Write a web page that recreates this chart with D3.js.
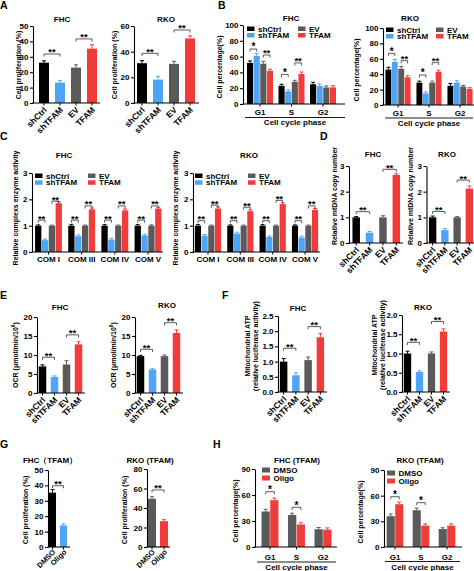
<!DOCTYPE html>
<html><head><meta charset="utf-8">
<script src="https://cdn.jsdelivr.net/npm/d3@7"></script>
<style>
body{margin:0;background:#fff}
svg{display:block}
text{font-family:"Liberation Sans",Arial,sans-serif;font-weight:bold;fill:#000}
</style>
</head><body>
<svg id="c" width="474" height="571"></svg>
<script>
// ---------------- DATA ----------------
const groups4 = ["shCtrl","shTFAM","EV","TFAM"];
const phases = ["G1","S","G2"];
const complexes = ["COM I","COM III","COM IV","COM V"];
const treatments = ["DMSO","Oligo"];

// A: cell proliferation (%)
const profFHC = [26.2, 13.2, 23, 35.3];
const profFHCErr = [1.2, 1.3, 1.8, 2.5];
const profRKO = [31, 18.2, 30.5, 50.3];
const profRKOErr = [2, 2.5, 2, 2];
const ticksA_FHC = [0,10,20,30,40,50];
const ticksA_RKO = [0,20,40,60];

// B: cell cycle (%) rows = shCtrl, shTFAM, EV, TFAM ; cols = G1, S, G2
const cycFHC = [[52,23,25],[61,16,23],[51,28,21],[42,38,21]];
const cycFHCErr = [[2.5,2,2.5],[3,2,2.5],[3,2,2],[2,2.5,2]];
const cycRKO = [[46,29,25],[56,15,29],[47,29,24],[36,43,21]];
const cycRKOErr = [[3,2,3],[3,2,2.5],[3,2,1.5],[2,2,1.5]];
const ticksB = [0,20,40,60,80,100];

// C: relative complex enzyme activity rows = series ; cols = complexes
const comFHC = [[1,1,1,1],[0.45,0.6,0.47,0.63],[1,1,1,1],[1.85,1.62,1.58,1.65]];
const comFHCErr = [[0.03,0.05,0.04,0.04],[0.04,0.05,0.05,0.05],[0.02,0.02,0.02,0.03],[0.06,0.05,0.05,0.05]];
const comRKO = [[1,1,1,1],[0.62,0.7,0.57,0.55],[1,1,1,1],[1.65,1.55,1.82,1.6]];
const comRKOErr = [[0.04,0.03,0.04,0.03],[0.04,0.05,0.04,0.05],[0.02,0.02,0.02,0.02],[0.06,0.05,0.05,0.05]];
const ticksC = [0,1,2,3];

// D: relative mtDNA copy number
const mtFHC = [1, 0.4, 1, 2.65];
const mtFHCErr = [0.03, 0.05, 0.06, 0.05];
const mtRKO = [1, 0.5, 1, 2.12];
const mtRKOErr = [0.05, 0.06, 0.03, 0.1];
const ticksD = [0,1,2,3];

// E: OCR
const ocrFHC = [7, 4.2, 7.5, 12.8];
const ocrFHCErr = [0.4, 0.3, 1.0, 0.7];
const ocrRKO = [9.7, 6.2, 9.7, 15.8];
const ocrRKOErr = [0.2, 0.2, 0.3, 0.8];
const ticksE = [0,5,10,15,20];

// F: mitochondrial ATP
const atpFHC = [1.0, 0.55, 1.05, 1.8];
const atpFHCErr = [0.1, 0.08, 0.1, 0.12];
const atpRKO = [1.0, 0.52, 1.0, 1.57];
const atpRKOErr = [0.06, 0.03, 0.04, 0.07];
const ticksF_FHC = [0,0.5,1,1.5,2,2.5];
const ticksF_RKO = [0,0.5,1,1.5,2];

// G: proliferation with oligomycin
const gFHC = [35.3, 14];
const gFHCErr = [2, 1];
const gRKO = [49.5, 26.5];
const gRKOErr = [2, 1.5];
const ticksG_FHC = [0,10,20,30,40,50];
const ticksG_RKO = [0,20,40,60,80];

// H: cell cycle with oligomycin rows = DMSO, Oligo ; cols = G1,S,G2
const hFHC = [[41,37,20.5],[54,26,20]];
const hFHCErr = [[2.5,2,2],[2.5,2,2]];
const hRKO = [[36,43,21],[50,25,25]];
const hRKOErr = [[2.5,2.5,1.5],[2.5,2,2]];
const ticksH = [0,30,60,90];

// significance: simple [i, j, value, label] ; grouped [group, i, j, value, label]
const sigA_FHC = [[0,1,31.8,"**"],[2,3,41.6,"**"]];
const sigA_RKO = [[0,1,38.7,"**"],[2,3,56.9,"**"]];
const sigB_FHC = [[0,0,1,69.6,"*"],[0,2,3,62,"**"],[1,0,1,37.5,"*"],[1,2,3,52,"**"]];
const sigB_RKO = [[0,0,1,67,"*"],[0,2,3,57.5,"**"],[1,0,1,39,"*"],[1,2,3,55,"**"]];
const sigC_FHC = [[0,0,1,1.21,"**"],[0,2,3,1.93,"**"],[1,0,1,1.21,"**"],[1,2,3,1.75,"**"],[2,0,1,1.21,"**"],[2,2,3,1.75,"**"],[3,0,1,1.21,"**"],[3,2,3,1.75,"**"]];
const sigC_RKO = [[0,0,1,1.19,"**"],[0,2,3,1.78,"**"],[1,0,1,1.19,"**"],[1,2,3,1.7,"**"],[2,0,1,1.19,"**"],[2,2,3,1.96,"**"],[3,0,1,1.19,"**"],[3,2,3,1.75,"**"]];
const sigD_FHC = [[0,1,1.22,"**"],[2,3,2.87,"**"]];
const sigD_RKO = [[0,1,1.23,"**"],[2,3,2.45,"**"]];
const sigE_FHC = [[0,1,9.4,"**"],[2,3,15.3,"**"]];
const sigE_RKO = [[0,1,11.5,"**"],[2,3,18.5,"**"]];
const sigF_FHC = [[0,1,1.44,"**"],[2,3,2.15,"**"]];
const sigF_RKO = [[0,1,1.29,"**"],[2,3,1.83,"**"]];
const sigG_FHC = [[0,1,39.8,"**"]];
const sigG_RKO = [[0,1,58.5,"**"]];
const sigH_FHC = [[0,0,1,63.8,"*"],[1,0,1,45.8,"*"]];
const sigH_RKO = [[0,0,1,58.8,"*"],[1,0,1,51.8,"*"]];

// ---------------- STYLE ----------------
const BLACK="#000000", BLUE="#4ea5f7", GRAY="#5a5a5a", RED="#f23c3c";
const colors4 = [BLACK, BLUE, GRAY, RED];
const FS_TICK = 8, FS_TITLE = 8, FS_YLAB = 7, FS_X = 8, FS_ROT = 8.5, FS_LEG = 8;

const svg = d3.select("#c");

function drawYAxis(g, y, c){
  const fmt = c.fmt || d3.format("d");
  const ax = g.append("g").attr("transform",`translate(${c.ax},0)`)
    .call(d3.axisLeft(y).tickValues(c.ticks).tickSize(3).tickSizeOuter(0).tickPadding(1.5).tickFormat(fmt));
  ax.select(".domain").attr("stroke","#000").attr("stroke-width",1.1);
  ax.selectAll(".tick line").attr("stroke","#000").attr("stroke-width",1.1);
  ax.selectAll(".tick text").attr("font-size",FS_TICK).attr("font-weight","bold")
    .attr("font-family",'"Liberation Sans",Arial,sans-serif').attr("fill","#000");
}

function drawTitle(g, c){
  g.append("text").attr("x",c.tx).attr("y",c.ty+2.9).attr("text-anchor","middle")
    .attr("font-size",FS_TITLE).text(c.title);
}

function drawYLabel(g, c){
  const lines = c.ylab;
  lines.forEach((ln,k)=>{
    const t = g.append("text").attr("text-anchor","middle").attr("font-size",FS_YLAB)
      .attr("transform",`translate(${c.lx[k]+2.5},${c.ly}) rotate(-90)`);
    if (typeof ln === "string") t.text(ln);
    else ln.forEach(p=>{ const s=t.append("tspan").text(p.t); if(p.sup){s.attr("font-size",5).attr("dy",-2.8);} if(p.down){s.attr("dy",2.8);} });
  });
}

function drawErr(g, cx, yv, ye, col){
  g.append("line").attr("x1",cx).attr("x2",cx).attr("y1",yv).attr("y2",ye).attr("stroke",col).attr("stroke-width",1);
  g.append("line").attr("x1",cx-2).attr("x2",cx+2).attr("y1",ye).attr("y2",ye).attr("stroke",col).attr("stroke-width",1);
}

function drawSig(g, xa, xb, yy, label){
  const path = d3.path();
  path.moveTo(xa, yy+2.6); path.lineTo(xa, yy); path.lineTo(xb, yy); path.lineTo(xb, yy+2.6);
  g.append("path").attr("d",path.toString()).attr("fill","none").attr("stroke","#333").attr("stroke-width",0.8);
  g.append("text").attr("x",(xa+xb)/2).attr("y",yy+ (label==="*"?1.2:1.4)).attr("text-anchor","middle")
    .attr("font-size",label==="*"?10:9.5).text(label);
}

function simplePanel(c){
  const g = svg.append("g");
  const y = d3.scaleLinear().domain([0,c.max]).range([c.y0,c.yTop]);
  const x = d3.scaleBand().domain(c.cats).range(c.range).paddingInner(c.pad).paddingOuter(c.pad/2);
  const bw = x.bandwidth();
  g.selectAll("rect.bar").data(c.cats).join("rect").attr("class","bar")
    .attr("x",d=>x(d)).attr("width",bw)
    .attr("y",(d,i)=>y(c.vals[i])).attr("height",(d,i)=>c.y0-y(c.vals[i]))
    .attr("fill",(d,i)=>c.colors[i]);
  c.cats.forEach((d,i)=>drawErr(g, x(d)+bw/2, y(c.vals[i]), y(c.vals[i]+c.errs[i]), c.colors[i]));
  drawYAxis(g, y, c);
  // x axis
  g.append("line").attr("x1",c.ax-0.5).attr("x2",c.xEnd).attr("y1",c.y0).attr("y2",c.y0).attr("stroke","#000").attr("stroke-width",1.1);
  const rfs = c.rotFs || FS_ROT, rdy = c.rotDy || 7.5;
  c.cats.forEach(d=>{
    const cx = x(d)+bw/2;
    g.append("line").attr("x1",cx).attr("x2",cx).attr("y1",c.y0).attr("y2",c.y0+2.5).attr("stroke","#000").attr("stroke-width",1);
    g.append("text").attr("text-anchor","end").attr("font-size",rfs)
      .attr("transform",`translate(${cx+3.5},${c.y0+rdy}) rotate(-45)`).text(d);
  });
  c.sig.forEach(s=>drawSig(g, x(c.cats[s[0]])+bw/2, x(c.cats[s[1]])+bw/2, y(s[2]), s[3]));
  drawTitle(g,c); drawYLabel(g,c);
}

function groupedPanel(c){
  const g = svg.append("g");
  const y = d3.scaleLinear().domain([0,c.max]).range([c.y0,c.yTop]);
  const x0 = d3.scaleBand().domain(c.groups).range(c.range).paddingInner(c.pad).paddingOuter(c.pad/2);
  const x1 = d3.scaleBand().domain(d3.range(c.series.length)).range([0,x0.bandwidth()]).paddingInner(c.ipad);
  const bw = x1.bandwidth();
  c.series.forEach((s,si)=>{
    g.selectAll(null).data(c.groups).join("rect")
      .attr("x",d=>x0(d)+x1(si)).attr("width",bw)
      .attr("y",(d,gi)=>y(c.vals[si][gi])).attr("height",(d,gi)=>c.y0-y(c.vals[si][gi]))
      .attr("fill",c.colors[si]);
    c.groups.forEach((d,gi)=>drawErr(g, x0(d)+x1(si)+bw/2, y(c.vals[si][gi]), y(c.vals[si][gi]+c.errs[si][gi]), c.colors[si]));
  });
  drawYAxis(g, y, c);
  g.append("line").attr("x1",c.ax-0.5).attr("x2",c.xEnd).attr("y1",c.y0).attr("y2",c.y0).attr("stroke","#000").attr("stroke-width",1.1);
  c.groups.forEach(d=>{
    const cx = x0(d)+x0.bandwidth()/2;
    g.append("line").attr("x1",cx).attr("x2",cx).attr("y1",c.y0).attr("y2",c.y0+2.5).attr("stroke","#000").attr("stroke-width",1);
    g.append("text").attr("x",cx).attr("y",c.y0+c.lblDy).attr("text-anchor","middle").attr("font-size",FS_X).text(d);
  });
  if (c.xlab){
    g.append("line").attr("x1",c.lineX[0]).attr("x2",c.lineX[1]).attr("y1",c.y0+c.lineDy).attr("y2",c.y0+c.lineDy).attr("stroke","#000").attr("stroke-width",0.9);
    g.append("text").attr("x",(c.lineX[0]+c.lineX[1])/2).attr("y",c.y0+c.xlabDy).attr("text-anchor","middle").attr("font-size",FS_X).text(c.xlab);
  }
  c.sig.forEach(s=>{
    const gx = x0(c.groups[s[0]]);
    drawSig(g, gx+x1(s[1])+bw/2, gx+x1(s[2])+bw/2, y(s[3]), s[4]);
  });
  // legend
  const L = c.legend;
  c.series.forEach((s,si)=>{
    const col = Math.floor(si / L.rows), row = si % L.rows;
    const lx = col===0 ? L.x : L.x2;
    const ly = L.y + row*L.dy;
    g.append("rect").attr("x",lx).attr("y",ly).attr("width",L.w).attr("height",L.h).attr("fill",c.colors[si]);
    g.append("text").attr("x",lx+L.w+3.5).attr("y",ly+L.h/2+2.9).attr("font-size",FS_LEG).text(s);
  });
  drawTitle(g,c); drawYLabel(g,c);
}

// ---------------- PANELS ----------------
const panelLetters = [["A",0,9],["B",218,9],["C",0,140],["D",320,140],["E",0,299],["F",222,299],["G",0,448],["H",213,448]];
panelLetters.forEach(p=>svg.append("text").attr("x",p[1]).attr("y",p[2]).attr("font-size",10.5).text(p[0]));

const profLab = ["Cell proliferation (%)"];
const pctLab = ["Cell percentage(%)"];

// A
simplePanel({ax:33,y0:103,yTop:26,max:50,ticks:ticksA_FHC,cats:groups4,vals:profFHC,errs:profFHCErr,colors:colors4,
  range:[36,100],pad:0.375,xEnd:100,title:"FHC",tx:62,ty:19,ylab:profLab,lx:[18.5],ly:65,sig:sigA_FHC});
simplePanel({ax:134,y0:103,yTop:26,max:60,ticks:ticksA_RKO,cats:groups4,vals:profRKO,errs:profRKOErr,colors:colors4,
  range:[134,198],pad:0.375,xEnd:199,title:"RKO",tx:166,ty:19,ylab:profLab,lx:[114.5],ly:65,sig:sigA_RKO});
// B
groupedPanel({ax:243,y0:104,yTop:25,max:100,ticks:ticksB,groups:phases,series:groups4,vals:cycFHC,errs:cycFHCErr,colors:colors4,
  range:[244.25,338.75],pad:0.175,ipad:0.08,xEnd:345,lblDy:10.5,lineDy:13.5,xlabDy:21,xlab:"Cell cycle phase",lineX:[245,345],
  legend:{x:247,x2:298,y:26.5,dy:6.5,rows:2,w:7.5,h:4.5},
  title:"FHC",tx:291,ty:18,ylab:pctLab,lx:[219.5],ly:67,sig:sigB_FHC});
groupedPanel({ax:383,y0:105,yTop:28,max:100,ticks:ticksB,groups:phases,series:groups4,vals:cycRKO,errs:cycRKOErr,colors:colors4,
  range:[382.5,475.5],pad:0.19,ipad:0.08,xEnd:474,lblDy:10.5,lineDy:13,xlabDy:20.5,xlab:"Cell cycle phase",lineX:[385,473],
  legend:{x:386,x2:436,y:27.5,dy:6.5,rows:2,w:7.5,h:4.5},
  title:"RKO",tx:410,ty:18,ylab:pctLab,lx:[356.5],ly:70,sig:sigB_RKO});
// C
const comLab = ["Relative complexs enzyme activity"];
groupedPanel({ax:32,y0:252,yTop:173,max:3,ticks:ticksC,groups:complexes,series:groups4,vals:comFHC,errs:comFHCErr,colors:colors4,
  range:[31.9,164.6],pad:0.19,ipad:0.08,xEnd:163,lblDy:9.5,
  legend:{x:35,x2:88,y:173.5,dy:6.8,rows:2,w:7.5,h:4.5},
  title:"FHC",tx:64,ty:155,ylab:comLab,lx:[15],ly:208,sig:sigC_FHC});
groupedPanel({ax:193,y0:252,yTop:173,max:3,ticks:ticksC,groups:complexes,series:groups4,vals:comRKO,errs:comRKOErr,colors:colors4,
  range:[191.8,321.2],pad:0.19,ipad:0.08,xEnd:320,lblDy:9.5,
  legend:{x:195,x2:248,y:173.5,dy:6.8,rows:2,w:7.5,h:4.5},
  title:"RKO",tx:249,ty:155,ylab:comLab,lx:[175],ly:208,sig:sigC_RKO});
// D
const mtLab = ["Relative mtDNA copy number"];
simplePanel({ax:349,y0:243,yTop:166,max:3,ticks:ticksD,cats:groups4,vals:mtFHC,errs:mtFHCErr,colors:colors4,
  range:[349.5,403],pad:0.44,xEnd:403,title:"FHC",tx:373,ty:154,ylab:mtLab,lx:[334],ly:196,sig:sigD_FHC});
simplePanel({ax:426.5,y0:243,yTop:166,max:3,ticks:ticksD,cats:groups4,vals:mtRKO,errs:mtRKOErr,colors:colors4,
  range:[426.5,475.5],pad:0.4,xEnd:474,title:"RKO",tx:447,ty:154,ylab:mtLab,lx:[410],ly:196,sig:sigD_RKO});
// E
const ocrLab = [[{t:"OCR (μmol/min/10"},{t:"6",sup:true},{t:")",down:true}]];
simplePanel({ax:37,y0:393,yTop:317,max:20,ticks:ticksE,cats:groups4,vals:ocrFHC,errs:ocrFHCErr,colors:colors4,
  range:[36.5,84.5],pad:0.375,xEnd:85,title:"FHC",tx:60,ty:307,ylab:ocrLab,lx:[15],ly:355,sig:sigE_FHC});
simplePanel({ax:135,y0:393,yTop:317,max:20,ticks:ticksE,cats:groups4,vals:ocrRKO,errs:ocrRKOErr,colors:colors4,
  range:[134.5,182.5],pad:0.375,xEnd:183,title:"RKO",tx:167,ty:305,ylab:ocrLab,lx:[113],ly:355,sig:sigE_RKO});
// F
const atpLab = ["Mitochondrial ATP","(relative luciferase  activity)"];
const f1 = d3.format(".1f");
simplePanel({ax:278,y0:392,yTop:316,max:2.5,ticks:ticksF_FHC,fmt:f1,cats:groups4,vals:atpFHC,errs:atpFHCErr,colors:colors4,
  range:[277.5,326.5],pad:0.39,xEnd:327,title:"FHC",tx:298,ty:308,ylab:atpLab,lx:[247,255],ly:346,sig:sigF_FHC});
simplePanel({ax:402,y0:392,yTop:315,max:2.0,ticks:ticksF_RKO,fmt:f1,cats:groups4,vals:atpRKO,errs:atpRKOErr,colors:colors4,
  range:[401.5,449.5],pad:0.39,xEnd:450,title:"RKO",tx:423,ty:307,ylab:atpLab,lx:[374,382],ly:345,sig:sigF_RKO});
// G
simplePanel({ax:48,y0:547,yTop:470,max:50,ticks:ticksG_FHC,cats:treatments,vals:gFHC,errs:gFHCErr,colors:[BLACK,BLUE],
  range:[47,69],pad:0.36,xEnd:70,rotFs:7.5,rotDy:5.5,title:"FHC（TFAM）",tx:50,ty:460,ylab:profLab,lx:[25.5],ly:510,sig:sigG_FHC});
simplePanel({ax:147,y0:547,yTop:469,max:80,ticks:ticksG_RKO,cats:treatments,vals:gRKO,errs:gRKOErr,colors:[GRAY,RED],
  range:[146,170],pad:0.33,xEnd:170,rotFs:7.5,rotDy:5.5,title:"RKO (TFAM)",tx:150,ty:460,ylab:profLab,lx:[124.5],ly:510,sig:sigG_RKO});
// H
groupedPanel({ax:255,y0:547,yTop:469,max:90,ticks:ticksH,groups:phases,series:treatments,vals:hFHC,errs:hFHCErr,colors:[GRAY,RED],
  range:[256.75,336.25],pad:0.36,ipad:0.05,xEnd:337,lblDy:12.5,lineDy:15,xlabDy:22.5,xlab:"Cell cycle phase",lineX:[257,336],
  legend:{x:262,x2:262,y:467.5,dy:8,rows:2,w:8,h:5},
  title:"FHC (TFAM)",tx:297,ty:460,ylab:pctLab,lx:[235.5],ly:511,sig:sigH_FHC});
groupedPanel({ax:384,y0:547,yTop:470,max:90,ticks:ticksH,groups:phases,series:treatments,vals:hRKO,errs:hRKOErr,colors:[GRAY,RED],
  range:[382,460],pad:0.36,ipad:0.05,xEnd:462,lblDy:12.5,lineDy:14.5,xlabDy:22.5,xlab:"Cell cycle phase",lineX:[385,460],
  legend:{x:387,x2:387,y:470.5,dy:8,rows:2,w:8,h:5},
  title:"RKO (TFAM)",tx:420,ty:460,ylab:pctLab,lx:[360.5],ly:512,sig:sigH_RKO});
</script>
</body></html>
